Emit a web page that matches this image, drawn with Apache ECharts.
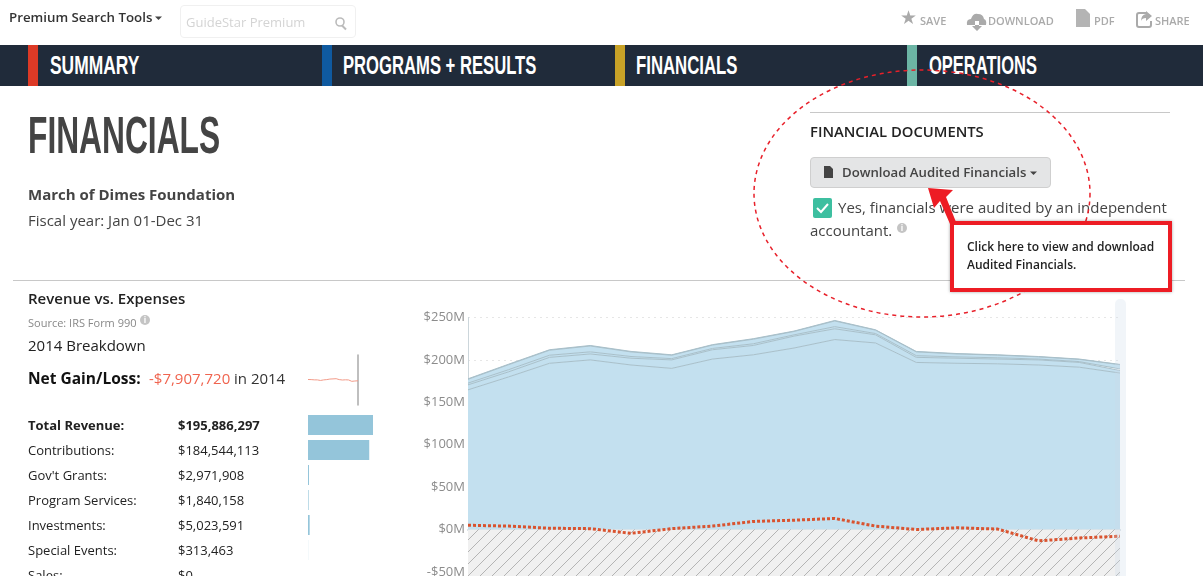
<!DOCTYPE html>
<html lang="en">
<head>
<meta charset="UTF-8">
<title>Financials</title>
<script src="https://cdn.jsdelivr.net/npm/echarts@6/dist/echarts.min.js"></script>
<style>
    html, body { margin: 0; padding: 0; background: #fff; overflow: hidden; }
    body { width: 1203px; height: 576px; position: relative; font-family: 'Open Sans', sans-serif; color: #333; }
    #chart { position: absolute; left: 0; top: 0; width: 1203px; height: 760px; }
    .t { position: absolute; white-space: nowrap; line-height: 20px; transform: translateY(-10px); }
    .b { font-weight: 700; }
    .s { font-weight: 600; }
    .nav { position: absolute; left: 0; top: 45px; width: 1203px; height: 41px; background: #202b3a; }
    .strip { position: absolute; top: 0; width: 10px; height: 41px; }
    .navt { position: absolute; top: 0; color: #fff; font: bold 26px/41px 'Liberation Sans', sans-serif; transform-origin: left center; white-space: nowrap; }
    .rule { position: absolute; height: 1px; background: #c8c8c8; }
    .tool { color: #aaa; font-size: 11px; font-weight: 600; }
    .info { position: absolute; width: 10px; height: 10px; border-radius: 50%; background: #c4c4c4; color: #fff; font: bold 8px/10px 'Open Sans', sans-serif; text-align: center; }
    #search { position: absolute; left: 180px; top: 5px; width: 174px; height: 31px; border: 1px solid #f0f0f0; border-radius: 4px; }
    #btn { position: absolute; left: 810px; top: 157px; width: 239px; height: 29px; background: #e4e5e6; border: 1px solid #cfcfcf; border-radius: 4px; }
    #check { position: absolute; left: 813px; top: 198px; width: 19px; height: 20px; background: #3dbfa0; border-radius: 2px; }
    #callout { position: absolute; left: 950px; top: 221px; width: 214px; height: 63px; border: 4px solid #ed1c24; background: #fff; box-shadow: 0 0 3px rgba(0,0,0,.35); }
    svg { position: absolute; left: 0; top: 0; overflow: visible; }
</style>
</head>
<body>
<div id="chart"></div>

<div class="t s" style="left:9px;top:17px;font-size:13.3px;">Premium Search Tools</div>
<div id="search"></div>
<div class="t" style="left:186px;top:22px;font-size:13px;color:#d4d4d4;">GuideStar Premium</div>

<div class="t" style="left:900px;top:17px;font-size:19px;color:#aaa;">★</div>
<div class="t tool" style="left:920px;top:21px;">SAVE</div>
<div class="t tool" style="left:988px;top:21px;">DOWNLOAD</div>
<div class="t tool" style="left:1094px;top:21px;">PDF</div>
<div class="t tool" style="left:1155px;top:21px;">SHARE</div>

<div class="nav">
    <div class="strip" style="left:28px;background:#dc3a26;"></div>
    <div class="strip" style="left:322px;background:#0f5aa0;"></div>
    <div class="strip" style="left:615px;background:#c8a227;"></div>
    <div class="strip" style="left:907px;background:#6cb5a5;"></div>
    <div class="navt" style="left:50px;transform:scaleX(.67);">SUMMARY</div>
    <div class="navt" style="left:343px;transform:scaleX(.64);">PROGRAMS + RESULTS</div>
    <div class="navt" style="left:636px;transform:scaleX(.645);">FINANCIALS</div>
    <div class="navt" style="left:929px;transform:scaleX(.635);">OPERATIONS</div>
</div>

<div class="t" style="left:28px;top:109px;font:bold 52px/52px 'Liberation Sans',sans-serif;color:#444;transform:scaleX(.61);transform-origin:left center;">FINANCIALS</div>
<div class="t b" style="left:28px;top:194px;font-size:15px;color:#444;">March of Dimes Foundation</div>
<div class="t" style="left:28px;top:220px;font-size:15px;color:#444;">Fiscal year: Jan 01-Dec 31</div>

<div class="rule" style="left:810px;top:112px;width:360px;"></div>
<div class="t s" style="left:810px;top:131px;font-size:14.8px;color:#222;">FINANCIAL DOCUMENTS</div>
<div id="btn"></div>
<div class="t s" style="left:842px;top:172px;font-size:13.2px;color:#444;">Download Audited Financials</div>
<div id="check"></div>
<div class="t" style="left:838px;top:207px;font-size:15px;color:#444;">Yes, financials were audited by an independent</div>
<div class="t" style="left:810px;top:230px;font-size:15px;color:#444;">accountant.</div>
<div class="info" style="left:897px;top:223px;">i</div>

<div class="rule" style="left:13px;top:280px;width:1172px;"></div>
<div class="t s" style="left:28px;top:298px;font-size:15px;color:#222;">Revenue vs. Expenses</div>
<div class="t" style="left:28px;top:323px;font-size:11px;color:#888;">Source: IRS Form 990</div>
<div class="info" style="left:140px;top:315px;">i</div>
<div class="t" style="left:28px;top:345px;font-size:15px;color:#222;">2014 Breakdown</div>
<div class="t b" style="left:28px;top:378px;font-size:15.5px;color:#111;">Net Gain/Loss:</div>
<div class="t" style="left:149px;top:378px;font-size:15px;color:#f0644f;">-$7,907,720</div>
<div class="t" style="left:234px;top:378px;font-size:15px;color:#333;">in 2014</div>
<div id="rows"></div>

<svg width="1203" height="576">
    <path d="M155 16.5 h7 l-3.5 3.5 z" fill="#444"/>
    <path d="M1030 171.5 h7 l-3.5 3.5 z" fill="#444"/>
    <path d="M342 25.5 l4 4" stroke="#bbb" stroke-width="2" fill="none"/>
    <circle cx="340" cy="22" r="4" stroke="#bbb" stroke-width="1.6" fill="none"/>
    <path d="M967 25 q-1 -6 4 -6 q2 -6 7 -5 q5 0 6 5 q3 1 2 6 z M975 21 h4 v5 h3 l-5 5 l-5 -5 h3 z" fill="#aaa" fill-rule="evenodd"/>
    <path d="M1076 9 h9 l5 5 v13 h-14 z" fill="#b4b4b4"/>
    <path d="M1147 13 h-8 a2 2 0 0 0 -2 2 v10 a2 2 0 0 0 2 2 h10 a2 2 0 0 0 2 -2 v-4" stroke="#aaa" stroke-width="2" fill="none"/>
    <path d="M1146 11 l6 5 l-6 5 v-3 q-4 0 -5 3 q0 -6 5 -7 z" fill="#aaa"/>
    <path d="M824 166 h6 l3 3 v9 h-9 z" fill="#444"/>
    <path d="M817 208 l4 4 l7 -8" stroke="#fff" stroke-width="2" fill="none"/>
    <ellipse cx="922" cy="193.5" rx="168" ry="123.5" fill="none" stroke="#e8202a" stroke-width="1.5" stroke-dasharray="4 4"/>
</svg>
<div id="callout"></div>
<div class="t s" style="left:967px;top:247px;font-size:12px;color:#222;">Click here to view and download</div>
<div class="t s" style="left:967px;top:265px;font-size:12px;color:#222;">Audited Financials.</div>
<svg width="1203" height="576">
    <path d="M928 188 L953 190 L946 197 L956 222 L950 224 L940 201 L934 208 Z" fill="#ed1c24"/>
</svg>

<script>
    // years run along a hidden axis, the last one is 2014
    const years = ['1998', '1999', '2000', '2001', '2002', '2003', '2004', '2005', '2006', '2007', '2008', '2009', '2010', '2011', '2012', '2013', '2014'];

    // revenue layers, $M
    const contributions = [164.7, 180, 196, 200, 194, 190, 201, 206, 214, 224, 220, 197, 196, 195.4, 194, 191.4, 184.5];
    const govGrants = [5.9, 6, 7, 7, 8, 10, 11, 11, 14, 12.7, 9.6, 6, 6, 5.6, 6, 5.6, 3.0];
    const programServices = [2, 2.5, 2.5, 2.5, 2, 1.5, 1.5, 2, 1.5, 2.5, 1.5, 2, 1.5, 1.5, 1, 1, 1.84];
    const investments = [4.5, 5.9, 5.9, 6.9, 5.4, 4, 4, 5.4, 4, 6.7, 4, 4.5, 3.5, 3.1, 2.6, 2.6, 5.02];
    const specialEvents = [0.6, 0.6, 0.6, 0.6, 0.6, 0.5, 0.5, 0.6, 0.5, 0.6, 0.4, 0.5, 0.5, 0.4, 0.4, 0.4, 0.31];

    // expenses go below the fold of the page
    const expenses = [-172.7, -191, -210.5, -216, -214.5, -205, -214, -215.5, -223, -233.5, -231.5, -210, -205.5, -205.5, -217, -211, -203.8];
    const netGain = [5, 4, 1.5, 1, -4.5, 1, 4, 9.5, 11, 13, 4, 0, 2, 0.5, -13.4, -10, -7.9];

    // 2014 breakdown table
    const rowLabels = ['Total Revenue:', 'Contributions:', "Gov't Grants:", 'Program Services:', 'Investments:', 'Special Events:', 'Sales:'];
    const rowTexts = ['$195,886,297', '$184,544,113', '$2,971,908', '$1,840,158', '$5,023,591', '$313,463', '$0'];
    const rowValues = [195886297, 184544113, 2971908, 1840158, 5023591, 313463, 0];

    rowLabels.forEach((label, i) => {
        const top = 425 + i * 25;
        const cls = i === 0 ? 't b' : 't';
        document.getElementById('rows').innerHTML +=
            `<div class="${cls}" style="left:28px;top:${top}px;font-size:13px;color:#222;">${label}</div>` +
            `<div class="${cls}" style="left:178px;top:${top}px;font-size:13px;color:#222;">${rowTexts[i]}</div>`;
    });

    // diagonal hatch for the expenses area
    function hatch() {
        const c = document.createElement('canvas');
        c.width = 12; c.height = 12;
        const g = c.getContext('2d');
        g.fillStyle = '#f0f0f0';
        g.fillRect(0, 0, 12, 12);
        g.strokeStyle = '#b4b4b4';
        g.lineWidth = 1;
        g.beginPath();
        g.moveTo(-2, 14); g.lineTo(14, -2);
        g.stroke();
        return c;
    }

    function revenueSeries(name, data) {
        return {
            name: name,
            type: 'line',
            stack: 'revenue',
            data: data,
            symbol: 'none',
            lineStyle: { color: '#a8bfc9', width: 1 },
            areaStyle: { color: '#c3e0ef', opacity: 1 }
        };
    }

    const myChart = echarts.init(document.getElementById('chart'));
    myChart.setOption({
        animation: false,
        grid: [
            { left: 468, top: 317.5, width: 652, height: 424 },
            { left: 308, top: 355, width: 50, height: 50 },
            { left: 308, top: 412.5, width: 65, height: 175 }
        ],
        xAxis: [
            {
                type: 'category', gridIndex: 0, data: years, boundaryGap: false,
                axisLabel: { show: false }, axisTick: { show: false },
                axisLine: { lineStyle: { color: '#abbfc8', width: 1.5 } }
            },
            { type: 'category', gridIndex: 1, data: years, boundaryGap: false, show: false },
            { type: 'value', gridIndex: 2, min: 0, max: 195886297, show: false }
        ],
        yAxis: [
            {
                type: 'value', gridIndex: 0, min: -250, max: 250, interval: 50,
                axisLabel: {
                    color: '#8c8c8c', fontSize: 13, fontFamily: 'Open Sans', margin: 3,
                    formatter: v => (v < 0 ? '-$' : '$') + Math.abs(v) + 'M'
                },
                axisTick: { show: false },
                axisLine: { show: true, lineStyle: { color: '#ccd6db' } },
                splitLine: { lineStyle: { color: '#e6e6e6', type: [2, 4] } }
            },
            {
                type: 'value', gridIndex: 1, min: -250, max: 250, position: 'right',
                axisLabel: { show: false }, axisTick: { show: false }, splitLine: { show: false },
                axisLine: { show: true, onZero: false, lineStyle: { color: '#aaa', width: 1.5 } }
            },
            {
                type: 'category', gridIndex: 2, data: rowLabels, inverse: true, show: false
            }
        ],
        series: [
            revenueSeries('Contributions', contributions),
            revenueSeries("Gov't Grants", govGrants),
            revenueSeries('Program Services', programServices),
            revenueSeries('Investments', investments),
            revenueSeries('Special Events', specialEvents),
            {
                name: 'Expenses', type: 'line', data: expenses, symbol: 'none',
                lineStyle: { width: 0 },
                areaStyle: { color: { image: hatch(), repeat: 'repeat' }, opacity: 1 }
            },
            {
                name: 'Net', type: 'line', data: netGain, symbol: 'none', z: 5,
                lineStyle: { color: '#d9532f', width: 3, type: [3, 2] }
            },
            {
                name: 'Net small', type: 'line', xAxisIndex: 1, yAxisIndex: 1, data: netGain, symbol: 'none',
                lineStyle: { color: '#f29a88', width: 1 }
            },
            {
                name: 'Breakdown', type: 'bar', xAxisIndex: 2, yAxisIndex: 2, data: rowValues,
                barWidth: 20, itemStyle: { color: '#94c5da' }
            }
        ],
        graphic: [{
            type: 'rect', z: 100,
            shape: { x: 1115, y: 299, width: 11, height: 300, r: 5 },
            style: { fill: 'rgba(205,220,232,0.28)' }
        }]
    });
</script>
</body>
</html>
